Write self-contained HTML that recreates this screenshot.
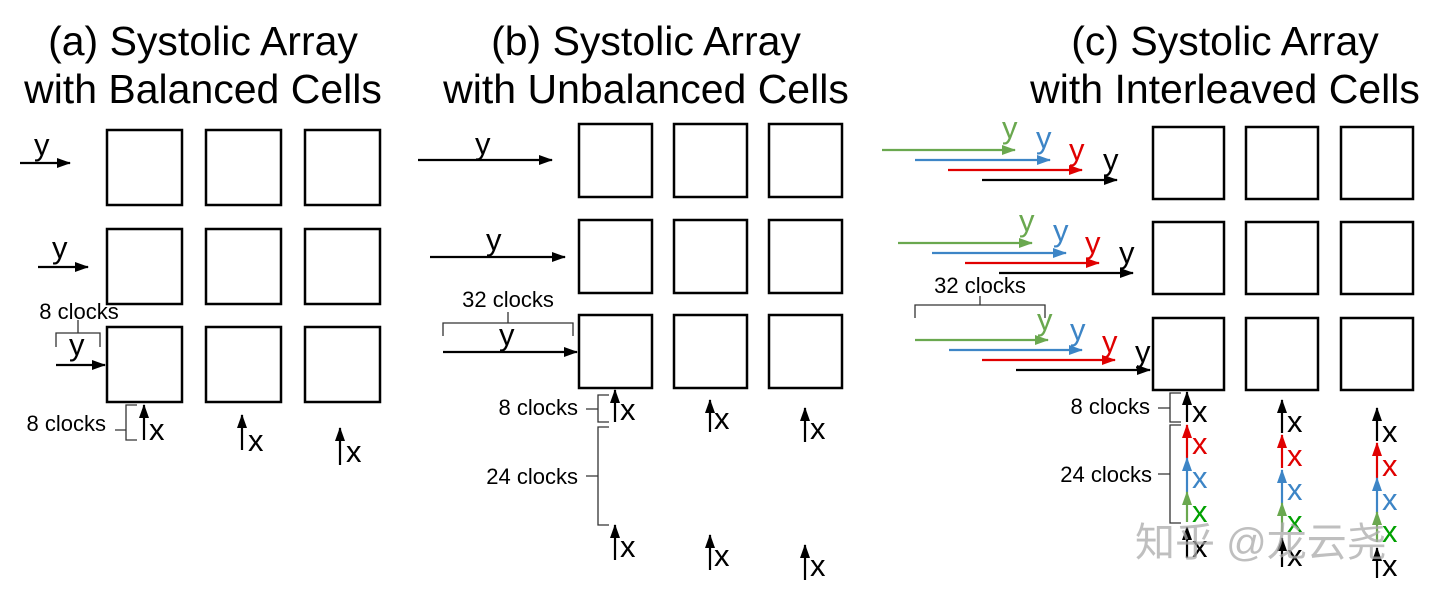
<!DOCTYPE html>
<html><head><meta charset="utf-8"><style>
html,body{margin:0;padding:0;background:#fff;}
svg{display:block;}
text{font-family:"Liberation Sans",Arial,sans-serif;}
</style></head><body>
<svg width="1440" height="601" viewBox="0 0 1440 601" xmlns="http://www.w3.org/2000/svg">
<defs>
<marker id="ak" markerWidth="14" markerHeight="10" refX="13" refY="5" orient="auto" markerUnits="userSpaceOnUse"><path d="M0,0 L14,5 L0,10z" fill="#000"/></marker>
<marker id="ag" markerWidth="14" markerHeight="10" refX="13" refY="5" orient="auto" markerUnits="userSpaceOnUse"><path d="M0,0 L14,5 L0,10z" fill="#6aa84f"/></marker>
<marker id="ab" markerWidth="14" markerHeight="10" refX="13" refY="5" orient="auto" markerUnits="userSpaceOnUse"><path d="M0,0 L14,5 L0,10z" fill="#3d85c6"/></marker>
<marker id="ar" markerWidth="14" markerHeight="10" refX="13" refY="5" orient="auto" markerUnits="userSpaceOnUse"><path d="M0,0 L14,5 L0,10z" fill="#e00000"/></marker>
</defs>
<g font-size="41" text-anchor="middle" fill="#000">
<text x="203" y="55">(a) Systolic Array</text><text x="203" y="103">with Balanced Cells</text>
<text x="646" y="55">(b) Systolic Array</text><text x="646" y="103">with Unbalanced Cells</text>
<text x="1225" y="55">(c) Systolic Array</text><text x="1225" y="103">with Interleaved Cells</text>
</g>
<g fill="none" stroke="#000" stroke-width="2.5">
<rect x="107" y="130" width="75" height="75"/><rect x="206" y="130" width="75" height="75"/><rect x="305" y="130" width="75" height="75"/>
<rect x="107" y="229" width="75" height="75"/><rect x="206" y="229" width="75" height="75"/><rect x="305" y="229" width="75" height="75"/>
<rect x="107" y="327" width="75" height="75"/><rect x="206" y="327" width="75" height="75"/><rect x="305" y="327" width="75" height="75"/>
<rect x="579" y="124" width="73" height="73"/><rect x="674" y="124" width="73" height="73"/><rect x="769" y="124" width="73" height="73"/>
<rect x="579" y="220" width="73" height="73"/><rect x="674" y="220" width="73" height="73"/><rect x="769" y="220" width="73" height="73"/>
<rect x="579" y="315" width="73" height="73"/><rect x="674" y="315" width="73" height="73"/><rect x="769" y="315" width="73" height="73"/>
<rect x="1153" y="127" width="71" height="72"/><rect x="1246" y="127" width="72" height="72"/><rect x="1341" y="127" width="72" height="72"/>
<rect x="1153" y="222" width="71" height="72"/><rect x="1246" y="222" width="72" height="72"/><rect x="1341" y="222" width="72" height="72"/>
<rect x="1153" y="318" width="71" height="72"/><rect x="1246" y="318" width="72" height="72"/><rect x="1341" y="318" width="72" height="72"/>
</g>
<!-- panel a -->
<g stroke="#000" stroke-width="2.2">
<line x1="20" y1="163" x2="70" y2="163" marker-end="url(#ak)"/>
<line x1="38" y1="267" x2="88" y2="267" marker-end="url(#ak)"/>
<line x1="56" y1="365" x2="105" y2="365" marker-end="url(#ak)"/>
<line x1="144" y1="440" x2="144" y2="405" marker-end="url(#ak)"/>
<line x1="242" y1="450" x2="242" y2="415" marker-end="url(#ak)"/>
<line x1="340" y1="465" x2="340" y2="428" marker-end="url(#ak)"/>
</g>
<g fill="none" stroke="#333" stroke-width="1.3">
<path d="M56,347 V333 H100 V347 M78,333 V320"/>
<path d="M137,405 H126 V440 H137 M126,430 H115"/>
</g>
<g font-size="31"><text x="34" y="155">y</text><text x="52" y="258">y</text><text x="69" y="355">y</text>
<text x="149" y="440">x</text><text x="248" y="451">x</text><text x="346" y="462">x</text></g>
<g font-size="22" text-anchor="middle"><text x="79" y="319">8 clocks</text></g>
<g font-size="22" text-anchor="end"><text x="106" y="431">8 clocks</text></g>
<!-- panel b -->
<g stroke="#000" stroke-width="2.2">
<line x1="418" y1="160" x2="552" y2="160" marker-end="url(#ak)"/>
<line x1="430" y1="257" x2="565" y2="257" marker-end="url(#ak)"/>
<line x1="443" y1="352" x2="577" y2="352" marker-end="url(#ak)"/>
<line x1="615" y1="422" x2="615" y2="390" marker-end="url(#ak)"/>
<line x1="615" y1="560" x2="615" y2="525" marker-end="url(#ak)"/>
<line x1="710" y1="432" x2="710" y2="400" marker-end="url(#ak)"/>
<line x1="710" y1="570" x2="710" y2="535" marker-end="url(#ak)"/>
<line x1="805" y1="442" x2="805" y2="408" marker-end="url(#ak)"/>
<line x1="805" y1="580" x2="805" y2="545" marker-end="url(#ak)"/>
</g>
<g fill="none" stroke="#333" stroke-width="1.3">
<path d="M443,336 V323 H573 V336 M508,323 V312"/>
<path d="M609,395 H598 V422 H609 M598,409 H586"/>
<path d="M609,427 H598 V525 H609 M598,476 H586"/>
</g>
<g font-size="31"><text x="475" y="154">y</text><text x="486" y="250">y</text><text x="499" y="345">y</text>
<text x="620" y="420">x</text><text x="620" y="557">x</text><text x="714" y="429">x</text><text x="714" y="566">x</text><text x="810" y="439">x</text><text x="810" y="576">x</text></g>
<g font-size="22"><text x="508" y="307" text-anchor="middle">32 clocks</text>
<text x="578" y="415" text-anchor="end">8 clocks</text><text x="578" y="484" text-anchor="end">24 clocks</text></g>
<!-- panel c -->
<g stroke-width="2.2">
<line x1="882" y1="150" x2="1015" y2="150" stroke="#6aa84f" marker-end="url(#ag)"/>
<line x1="915" y1="160" x2="1050" y2="160" stroke="#3d85c6" marker-end="url(#ab)"/>
<line x1="948" y1="170" x2="1082" y2="170" stroke="#e00000" marker-end="url(#ar)"/>
<line x1="982" y1="180" x2="1117" y2="180" stroke="#000" marker-end="url(#ak)"/>
<line x1="898" y1="243" x2="1032" y2="243" stroke="#6aa84f" marker-end="url(#ag)"/>
<line x1="932" y1="253" x2="1066" y2="253" stroke="#3d85c6" marker-end="url(#ab)"/>
<line x1="965" y1="263" x2="1099" y2="263" stroke="#e00000" marker-end="url(#ar)"/>
<line x1="999" y1="273" x2="1133" y2="273" stroke="#000" marker-end="url(#ak)"/>
<line x1="915" y1="340" x2="1048" y2="340" stroke="#6aa84f" marker-end="url(#ag)"/>
<line x1="949" y1="350" x2="1082" y2="350" stroke="#3d85c6" marker-end="url(#ab)"/>
<line x1="982" y1="360" x2="1115" y2="360" stroke="#e00000" marker-end="url(#ar)"/>
<line x1="1016" y1="370" x2="1150" y2="370" stroke="#000" marker-end="url(#ak)"/>
<line x1="1187" y1="422" x2="1187" y2="392" stroke="#000" marker-end="url(#ak)"/>
<line x1="1187" y1="458" x2="1187" y2="425" stroke="#e00000" marker-end="url(#ar)"/>
<line x1="1187" y1="492" x2="1187" y2="458" stroke="#3d85c6" marker-end="url(#ab)"/>
<line x1="1187" y1="522" x2="1187" y2="492" stroke="#6aa84f" marker-end="url(#ag)"/>
<line x1="1187" y1="558" x2="1187" y2="527" stroke="#000" marker-end="url(#ak)"/>
<line x1="1282" y1="433" x2="1282" y2="400" stroke="#000" marker-end="url(#ak)"/>
<line x1="1282" y1="468" x2="1282" y2="435" stroke="#e00000" marker-end="url(#ar)"/>
<line x1="1282" y1="503" x2="1282" y2="470" stroke="#3d85c6" marker-end="url(#ab)"/>
<line x1="1282" y1="532" x2="1282" y2="503" stroke="#6aa84f" marker-end="url(#ag)"/>
<line x1="1282" y1="567" x2="1282" y2="538" stroke="#000" marker-end="url(#ak)"/>
<line x1="1377" y1="441" x2="1377" y2="408" stroke="#000" marker-end="url(#ak)"/>
<line x1="1377" y1="478" x2="1377" y2="443" stroke="#e00000" marker-end="url(#ar)"/>
<line x1="1377" y1="513" x2="1377" y2="478" stroke="#3d85c6" marker-end="url(#ab)"/>
<line x1="1377" y1="542" x2="1377" y2="512" stroke="#6aa84f" marker-end="url(#ag)"/>
<line x1="1377" y1="578" x2="1377" y2="548" stroke="#000" marker-end="url(#ak)"/>
</g>
<g fill="none" stroke="#333" stroke-width="1.3">
<path d="M915,318 V305 H1045 V318 M980,305 V296"/>
<path d="M1181,393 H1170 V422 H1181 M1170,408 H1158"/>
<path d="M1181,425 H1170 V523 H1181 M1170,474 H1158"/>
</g>
<g font-size="31">
<text x="1002" y="138" fill="#6aa84f">y</text><text x="1036" y="148" fill="#3d85c6">y</text><text x="1069" y="160" fill="#e00000">y</text><text x="1103" y="170" fill="#000">y</text>
<text x="1019" y="231" fill="#6aa84f">y</text><text x="1053" y="241" fill="#3d85c6">y</text><text x="1085" y="253" fill="#e00000">y</text><text x="1119" y="263" fill="#000">y</text>
<text x="1037" y="330" fill="#6aa84f">y</text><text x="1070" y="340" fill="#3d85c6">y</text><text x="1102" y="352" fill="#e00000">y</text><text x="1135" y="362" fill="#000">y</text>
<text x="1192" y="422" fill="#000">x</text><text x="1192" y="454" fill="#e00000">x</text><text x="1192" y="488" fill="#3d85c6">x</text><text x="1192" y="522" fill="#00a000">x</text><text x="1192" y="557" fill="#000">x</text>
<text x="1287" y="432" fill="#000">x</text><text x="1287" y="466" fill="#e00000">x</text><text x="1287" y="500" fill="#3d85c6">x</text><text x="1287" y="532" fill="#00a000">x</text><text x="1287" y="566" fill="#000">x</text>
<text x="1382" y="442" fill="#000">x</text><text x="1382" y="476" fill="#e00000">x</text><text x="1382" y="510" fill="#3d85c6">x</text><text x="1382" y="542" fill="#00a000">x</text><text x="1382" y="576" fill="#000">x</text>
</g>
<g font-size="22"><text x="980" y="293" text-anchor="middle">32 clocks</text>
<text x="1150" y="414" text-anchor="end">8 clocks</text><text x="1152" y="482" text-anchor="end">24 clocks</text></g>
<text x="1135" y="556" font-size="40" fill="#aaa" fill-opacity="0.75" style="font-family:'Liberation Sans','Noto Sans CJK SC',sans-serif">知乎 @龙云尧</text>
</svg>
</body></html>
